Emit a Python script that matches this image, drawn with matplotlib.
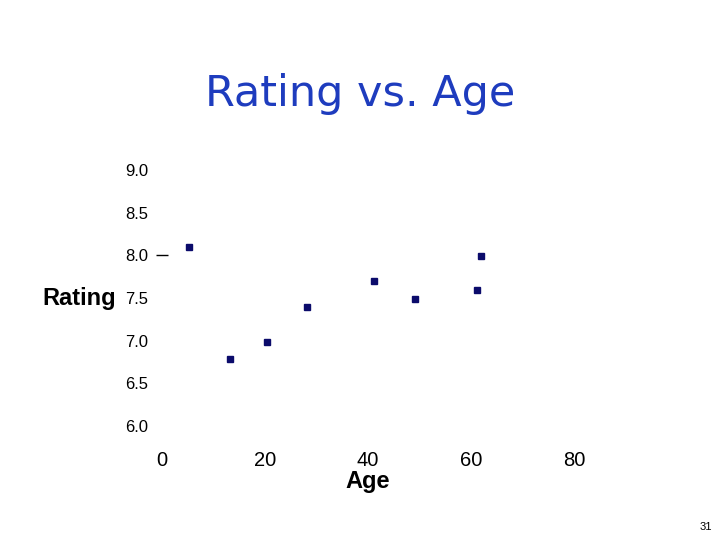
import matplotlib
matplotlib.use('Agg')
import matplotlib.pyplot as plt
import matplotlib.ticker as ticker

# values
age = [5.2, 13.2, 20.3, 28.1, 41.2, 49.1, 61.1, 61.9]
rating = [8.10, 6.79, 6.99, 7.39, 7.70, 7.49, 7.59, 7.99]

xticks = [0, 20, 40, 60, 80]
yticks = [6.0, 6.5, 7.0, 7.5, 8.0, 8.5, 9.0]

W, H = 720, 540
fig = plt.figure(figsize=(7.2, 5.4), dpi=100)
ax = fig.add_axes([162/W, 1 - 426/H, (574 - 162)/W, (426 - 170)/H])

ax.plot(age, rating, ls='none', marker='s', ms=3.8, mfc='#0b0b6b', mec='#0b0b6b')

ax.set_xlim(0, 80)
ax.set_ylim(6.0, 9.0)
ax.set_xticks(xticks)
ax.set_xticklabels([str(t) for t in xticks])
ax.set_yticks(yticks)
ax.set_yticklabels(['%.1f' % t for t in yticks])
for s in ax.spines.values():
    s.set_visible(False)

ax.xaxis.set_tick_params(which='major', length=0, pad=18, labelsize=14.5)
ax.yaxis.set_tick_params(which='major', length=0, pad=10, labelsize=12)
# the lone dash next to 8.0
ax.yaxis.remove_overlapping_locs = False
ax.yaxis.set_minor_locator(ticker.FixedLocator([8.0]))
ax.yaxis.set_tick_params(which='minor', length=9, width=1, direction='inout', color='black')

ax.set_xlabel('Age', fontsize=17, fontweight='bold', labelpad=0)
ax.xaxis.set_label_coords(0.5, -0.17)
ax.set_ylabel('Rating', fontsize=17, fontweight='bold', rotation=0, ha='right', va='center')
ax.yaxis.set_label_coords(-0.112, 0.5)

for lab in ax.get_xticklabels() + ax.get_yticklabels():
    lab.set_family('Liberation Sans')
ax.xaxis.label.set_family('Liberation Sans')
ax.yaxis.label.set_family('Liberation Sans')

fig.text(0.5, 1 - 94/H, 'Rating vs. Age', ha='center', va='center',
         fontsize=31, color='#1e3cbe', family='DejaVu Sans')
fig.text(712/W, 1 - 527/H, '31', ha='right', va='center', fontsize=8,
         family='Liberation Sans')

fig.savefig('out.png', dpi=100)
plt.close()
